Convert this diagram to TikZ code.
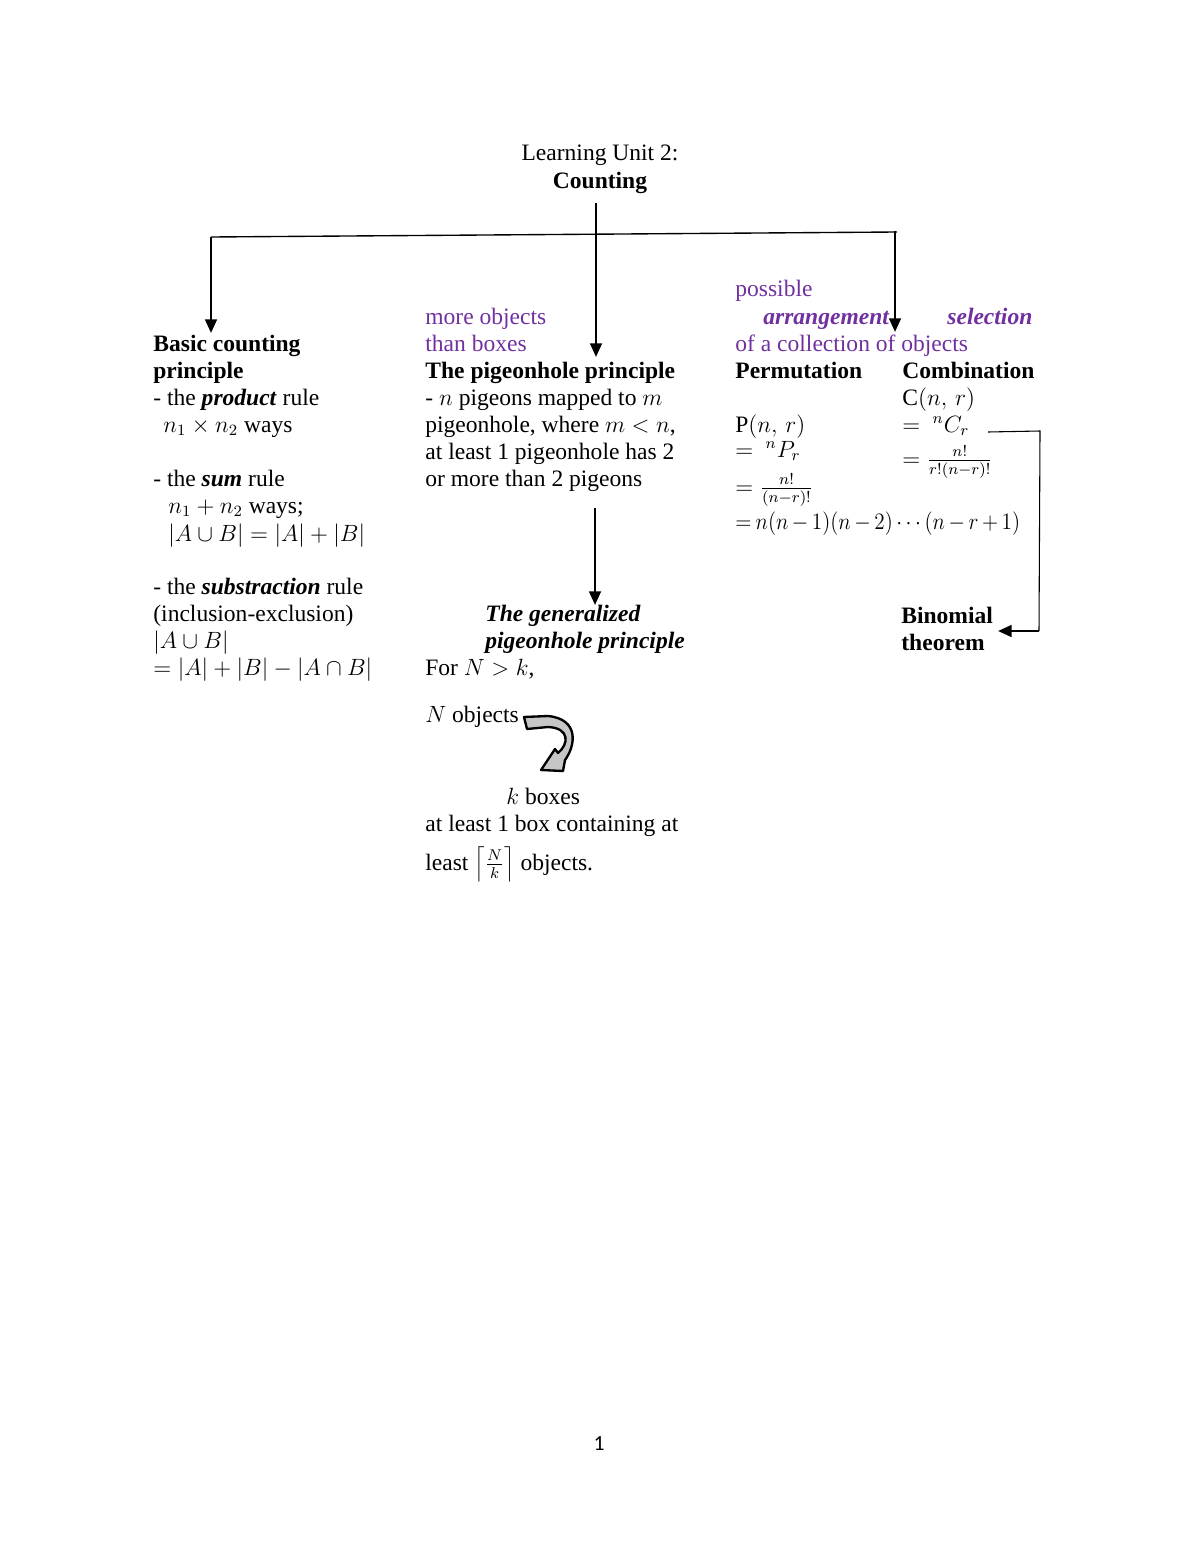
\documentclass[tikz,border=0pt]{standalone}
\usepackage{fontspec}
\setmainfont{Liberation Serif}
\newfontfamily\pagenumfont{Carlito}
\usetikzlibrary{arrows.meta}
\definecolor{lupurple}{RGB}{112,48,160}
\begin{document}
\begin{tikzpicture}[x=0.51pt,y=-0.51pt,
  txt/.style={anchor=base west, inner sep=0pt, font=\fontsize{12}{14}\selectfont},
  ctxt/.style={anchor=base, inner sep=0pt, font=\fontsize{12}{14}\selectfont},
  pur/.style={txt, text=lupurple},
  bigarrow/.style={line width=1.25pt, -{Triangle[length=7pt,width=6pt]}},
  thinline/.style={line width=0.7pt},
  hairline/.style={line width=0.55pt}]
\fill[white] (0,0) rectangle (1200,1553);
\useasboundingbox (0,0) rectangle (1200,1553);

% title
\node[ctxt] (t1) at (600,161) {Learning Unit 2:};
\node[ctxt] (t2) at (600,189) {\textbf{Counting}};

% left column
\node[txt] (b1) at (153,351) {\textbf{Basic counting}};
\node[txt] (b2) at (153,378) {\textbf{principle}};
\node[txt] (b3) at (153,405) {- the \textbf{\textit{product}} rule};
\node[txt] (b4) at (163,432) {$n_1\times n_2$ ways};
\node[txt] (b5) at (153,486) {- the \textbf{\textit{sum}} rule};
\node[txt] (b6) at (168,513) {$n_1+n_2$ ways\smash{;}};
\node[txt] (b7) at (168,541) {$\smash{|A\cup B| = |A| + |B|}$};
\node[txt] (b8) at (153,594) {- the \textbf{\textit{substraction}} rule};
\node[txt] (b9) at (153,621) {(inclusion-exclusion)};
\node[txt] (b10) at (153,648) {$|A\cup B|$};
\node[txt] (b11) at (153,675) {$= |A| + |B| - |A\cap B|$};

% middle column
\node[pur] (m1) at (425,324) {more objects};
\node[pur] (m2) at (425,351) {than boxes};
\node[txt] (m3) at (425,378) {\textbf{The pigeonhole principle}};
\node[txt] (m4) at (425,405) {- $n$ pigeons mapped to $m$};
\node[txt] (m5) at (425,432) {pigeonhole, where $m<n$,};
\node[txt] (m6) at (425,459) {at least 1 pigeonhole has 2};
\node[txt] (m7) at (425,486) {or more than 2 pigeons};
\node[txt] (g1) at (485,621) {\textbf{\textit{The generalized}}};
\node[txt] (g2) at (485,648) {\textbf{\textit{pigeonhole principle}}};
\node[txt] (g3) at (425,675) {For $N>k$,};
\node[txt] (g4) at (425,722) {$N$ objects};
\node[txt] (g5) at (506,804) {$k$ boxes};
\node[txt] (g6) at (425,831) {at least 1 box containing at};
\node[txt] (g7) at (425,870) {least $\smash{\left\lceil\frac{N}{k}\right\rceil}$ objects.};

% right column
\node[pur] (r1) at (735,297) {possible};
\node[pur] (r2) at (763,324) {\textbf{\textit{arrangement}}};
\node[pur] (r3) at (947,324) {\textbf{\textit{selection}}};
\node[pur] (r4) at (735,351) {of a collection of objects};
\node[txt] (r5) at (735,378) {\textbf{Permutation}};
\node[txt] (r6) at (902,378) {\textbf{Combination}};
\node[txt] (r7) at (902,405) {C$(n,\,r)$};
\node[txt] (r8) at (735,432) {P$(n,\,r)$};
\node[txt] (r9) at (902,432) {$=\ {}^{n}C_{r}$};
\node[txt] (r10) at (735,457) {$=\ {}^{n}P_{r}$};
\node[txt] (r11) at (902,466) {$=\frac{n!}{r!(n-r)!}$};
\node[txt] (r12) at (735,494) {$=\frac{n!}{(n-r)!}$};
\node[txt] (r13) at (735,529) {\scalebox{0.9}[1]{\medmuskip=3mu\thickmuskip=3.5mu$= n(n-1)(n-2)\cdots(n-r+1)$}};
\node[txt] (bi1) at (901,623) {\textbf{Binomial}};
\node[txt] (bi2) at (901,650) {\textbf{theorem}};

% page number
\node[anchor=base, inner sep=0pt, font=\pagenumfont\fontsize{11}{13}\selectfont] (pg) at (599,1450) {1};

% connector coordinates
\coordinate (cA) at (596,203);
\coordinate (aM) at (596,357);
\coordinate (hL) at (211,237);
\coordinate (hR) at (897,232);
\coordinate (aL) at (211,333);
\coordinate (rTop) at (895,231);
\coordinate (aR) at (895,332);
\coordinate (pA) at (595,508);
\coordinate (pB) at (595,605);
\coordinate (cS) at (988,432);
\coordinate (cC1) at (1040,431);
\coordinate (cC2) at (1039,631);
\coordinate (cE) at (998,631);

\draw[thinline] (hL) -- (hR);
\draw[bigarrow] (cA) -- (aM);
\draw[bigarrow] (hL) -- (aL);
\draw[bigarrow] (rTop) -- (aR);
\draw[bigarrow] (pA) -- (pB);
\draw[hairline] (cS) -- (cC1) -- (cC2);
\draw[bigarrow] (cC2) -- (cE);

% curved block arrow
\draw[line width=1.2pt, fill=gray!45, line join=round]
  (541,770) -- (563,771) -- (565,760)
  .. controls (576,745) and (579,719) .. (548,716)
  -- (524,717) -- (527,729) -- (548,727)
  .. controls (570,728) and (569,744) .. (558,753)
  -- (555,749) -- cycle;
\end{tikzpicture}
\end{document}
